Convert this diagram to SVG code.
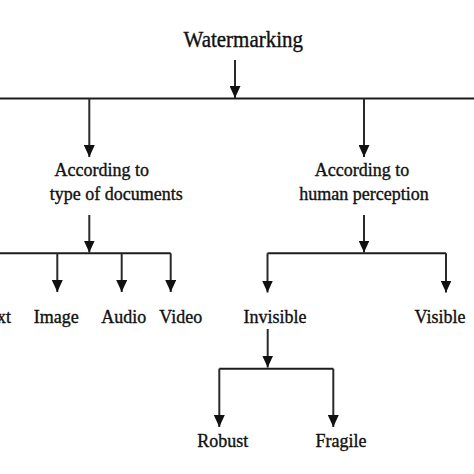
<svg xmlns="http://www.w3.org/2000/svg" width="474" height="474" viewBox="0 0 474 474">
<style>
  .lbl { font-family: "Liberation Serif", "Times New Roman", serif; font-size: 18px; fill: #111; stroke: #111; stroke-width: 0.35; text-anchor: middle; }
  .title { font-size: 21px; }
  .ln { stroke: #1c1c1c; stroke-width: 2; fill: none; }
  .arr { stroke: #2a2a2a; stroke-width: 2; fill: none; marker-end: url(#ah); }
</style>
<defs>
  <marker id="ah" markerUnits="userSpaceOnUse" markerWidth="12" markerHeight="11" refX="12" refY="5.5" orient="auto">
    <path d="M0,0 L12,5.5 L0,11 Z" fill="#111"/>
  </marker>
</defs>
<rect width="474" height="474" fill="#fff"/>
<g id="connectors">
  <path class="arr" d="M235,60 V98"/>
  <path class="ln" d="M0,98.5 H474"/>
  <path class="arr" d="M89.3,98.5 V157"/>
  <path class="arr" d="M364,98.5 V157"/>
  <path class="arr" d="M89.3,215 V252.5"/>
  <path class="ln" d="M0,253.3 H170.7"/>
  <path class="arr" d="M57.3,253.3 V292"/>
  <path class="arr" d="M121.7,253.3 V292"/>
  <path class="arr" d="M170.7,253.3 V292"/>
  <path class="arr" d="M364,215 V252.5"/>
  <path class="ln" d="M267.5,253.3 H446"/>
  <path class="arr" d="M267.5,253.3 V292.5"/>
  <path class="arr" d="M446,253.3 V292.5"/>
  <path class="arr" d="M267.7,329 V367.5"/>
  <path class="ln" d="M219.3,368.7 H333.3"/>
  <path class="arr" d="M219.3,368.7 V427"/>
  <path class="arr" d="M333.3,368.7 V427"/>
</g>
<g id="watermarking"><text class="lbl title" transform="matrix(1 0 0 1.1 243.3 46.7)">Watermarking</text></g>
<g id="type-of-documents">
  <text class="lbl" transform="matrix(1 0 0 1.1 101.7 176)">According to</text>
  <text class="lbl" transform="matrix(1 0 0 1.1 116.3 199.7)">type of documents</text>
</g>
<g id="human-perception">
  <text class="lbl" transform="matrix(1 0 0 1.1 362 176)">According to</text>
  <text class="lbl" transform="matrix(1 0 0 1.1 364 199.7)">human perception</text>
</g>
<g id="text"><text class="lbl" transform="matrix(1 0 0 1.1 -4.8 322.7)">Text</text></g>
<g id="image"><text class="lbl" transform="matrix(1 0 0 1.1 56.2 322.7)">Image</text></g>
<g id="audio"><text class="lbl" transform="matrix(1 0 0 1.1 123.8 322.7)">Audio</text></g>
<g id="video"><text class="lbl" transform="matrix(1 0 0 1.1 180.7 322.7)">Video</text></g>
<g id="invisible"><text class="lbl" transform="matrix(1 0 0 1.1 275 322.7)">Invisible</text></g>
<g id="visible"><text class="lbl" transform="matrix(1 0 0 1.1 440 322.7)">Visible</text></g>
<g id="robust"><text class="lbl" transform="matrix(1 0 0 1.1 222.8 446.7)">Robust</text></g>
<g id="fragile"><text class="lbl" transform="matrix(1 0 0 1.1 341 446.7)">Fragile</text></g>
</svg>
